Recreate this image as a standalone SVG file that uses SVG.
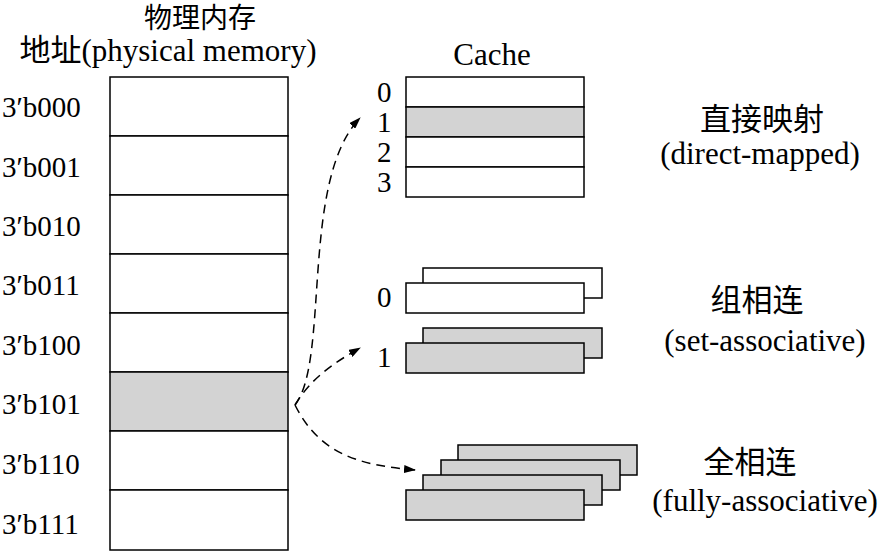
<svg xmlns="http://www.w3.org/2000/svg" width="887" height="552" viewBox="0 0 887 552">
<style>
text{font-family:"Liberation Serif","Noto Sans CJK SC",serif;fill:#000}
.l{font-size:29px}
.c{font-size:31px;text-anchor:middle}
.h{font-size:28px;text-anchor:middle}
.w{fill:#fff;stroke:#000;stroke-width:1.5}
.g{fill:#d3d3d3;stroke:#000;stroke-width:1.5}
.d{fill:none;stroke:#000;stroke-width:1.5;stroke-dasharray:9 6}
</style>
<defs><marker id="a" markerWidth="12" markerHeight="8" refX="11" refY="4" orient="auto" markerUnits="userSpaceOnUse"><path d="M0,0L12,4L0,8z"/></marker></defs>
<rect width="887" height="552" fill="#fff"/>
<g id="memory">
<text class="h" x="200" y="28">物理内存</text>
<text class="c" x="168" y="61">地址(physical memory)</text>
<rect class="w" x="110" y="77" width="178" height="59"/>
<rect class="w" x="110" y="136" width="178" height="59"/>
<rect class="w" x="110" y="195" width="178" height="59"/>
<rect class="w" x="110" y="254" width="178" height="59"/>
<rect class="w" x="110" y="313" width="178" height="59"/>
<rect class="g" x="110" y="372" width="178" height="59"/>
<rect class="w" x="110" y="431" width="178" height="59"/>
<rect class="w" x="110" y="490" width="178" height="60"/>
<text class="l" x="2" y="117">3′b000</text>
<text class="l" x="2" y="177">3′b001</text>
<text class="l" x="2" y="236">3′b010</text>
<text class="l" x="2" y="295">3′b011</text>
<text class="l" x="2" y="355">3′b100</text>
<text class="l" x="2" y="414">3′b101</text>
<text class="l" x="2" y="474">3′b110</text>
<text class="l" x="2" y="534">3′b111</text>
</g>
<g id="direct">
<text class="c" x="492" y="65">Cache</text>
<rect class="w" x="406" y="77" width="178" height="30"/>
<rect class="g" x="406" y="107" width="178" height="30"/>
<rect class="w" x="406" y="137" width="178" height="30"/>
<rect class="w" x="406" y="167" width="178" height="30"/>
<text class="l" x="377" y="102">0</text>
<text class="l" x="377" y="132">1</text>
<text class="l" x="377" y="162">2</text>
<text class="l" x="377" y="192">3</text>
<text class="c" x="762" y="130">直接映射</text>
<text class="c" x="760" y="164">(direct-mapped)</text>
</g>
<g id="set">
<rect class="w" x="423" y="268" width="179" height="30"/>
<rect class="w" x="406" y="283" width="178" height="30"/>
<rect class="g" x="423" y="328" width="179" height="30"/>
<rect class="g" x="406" y="343" width="178" height="30"/>
<text class="l" x="377" y="307">0</text>
<text class="l" x="377" y="367">1</text>
<text class="c" x="757" y="311">组相连</text>
<text class="c" x="765" y="351">(set-associative)</text>
</g>
<g id="full">
<rect class="g" x="458" y="445" width="179" height="30"/>
<rect class="g" x="441" y="460" width="179" height="30"/>
<rect class="g" x="423" y="475" width="179" height="30"/>
<rect class="g" x="406" y="490" width="178" height="30"/>
<text class="c" x="750" y="473">全相连</text>
<text class="c" x="765" y="511">(fully-associative)</text>
</g>
<g id="connectors">
<path class="d" d="M295,405 C330,360 300,180 360,118" marker-end="url(#a)"/>
<path class="d" d="M295,405 C310,380 330,365 360,348" marker-end="url(#a)"/>
<path class="d" d="M295,405 C320,455 360,465 415,470" marker-end="url(#a)"/>
</g>
</svg>
